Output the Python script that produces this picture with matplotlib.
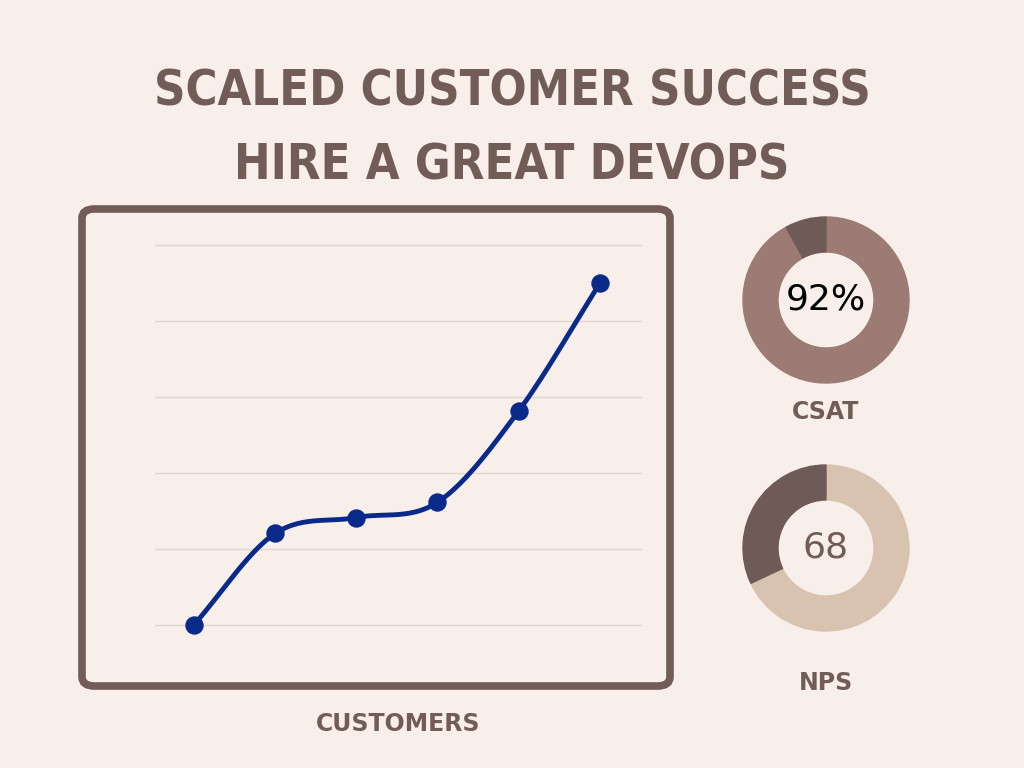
import numpy as np
import matplotlib.pyplot as plt
from matplotlib.patches import FancyBboxPatch, Wedge

BG = '#f8efea'
BROWN = '#725c58'

x_vals = [1, 2, 3, 4, 5, 6]
customers = [0, 1.2, 1.41, 1.61, 2.81, 4.49]
csat = 92
nps = 68


def smooth(xs, ys, n=30):
    # Catmull-Rom curve through the points, only for drawing
    p = np.column_stack([xs, ys]).astype(float)
    p = np.vstack([2 * p[0] - p[1], p, 2 * p[-1] - p[-2]])
    out = []
    t = np.linspace(0, 1, n)[:, None]
    for i in range(1, len(p) - 2):
        p0, p1, p2, p3 = p[i - 1], p[i], p[i + 1], p[i + 2]
        seg = 0.5 * ((2 * p1) + (-p0 + p2) * t + (2 * p0 - 5 * p1 + 4 * p2 - p3) * t ** 2
                     + (-p0 + 3 * p1 - 3 * p2 + p3) * t ** 3)
        out.append(seg)
    s = np.vstack(out)
    return s[:, 0], s[:, 1]


fig = plt.figure(figsize=(10.24, 7.68), dpi=100, facecolor=BG)

fig.text(0.5, 1 - 92 / 768, 'SCALED CUSTOMER SUCCESS', ha='center', va='center',
         fontsize=35, fontweight='bold', fontstretch='condensed', color=BROWN,
         family='DejaVu Sans')
fig.text(0.5, 1 - 166 / 768, 'HIRE A GREAT DEVOPS', ha='center', va='center',
         fontsize=35, fontweight='bold', fontstretch='condensed', color=BROWN,
         family='DejaVu Sans')

# frame around the line chart
frame = FancyBboxPatch((82 / 1024, 1 - 686 / 768), 588 / 1024, 477 / 768,
                       boxstyle='round,pad=0,rounding_size=0.012',
                       transform=fig.transFigure, fill=False, ec=BROWN, lw=5.5)
fig.patches.append(frame)

ax = fig.add_axes([155 / 1024, 1 - 627 / 768, 487 / 1024, 384 / 768])
ax.set_facecolor('none')
sx, sy = smooth(x_vals, customers)
ax.plot(sx, sy, color='#0a2a8a', lw=3.5, clip_on=False)
ax.scatter(x_vals, customers, s=150, color='#0a2a8a', zorder=3, clip_on=False)
ax.set_xlim(0.52, 6.52)
ax.set_ylim(-0.03, 5.02)
ax.set_yticks(range(6))
ax.grid(axis='y', color='#e0d6d2', lw=1)
ax.set_xticks([])
ax.tick_params(left=False, labelleft=False)
for s in ax.spines.values():
    s.set_visible(False)
ax.set_axisbelow(True)

fig.text(398 / 1024, 1 - 724 / 768, 'CUSTOMERS', ha='center', va='center',
         fontsize=17, fontweight='bold', color=BROWN)

# donuts
dax = fig.add_axes([0, 0, 1, 1])
dax.set_xlim(0, 1024)
dax.set_ylim(768, 0)
dax.axis('off')
dax.set_aspect('equal')


def donut(cx, cy, value, main, rest, label, txtcolor):
    r, w = 83, 35
    # y axis is flipped: -90 is the top, increasing angle goes clockwise on screen
    start = -90
    ang = 360 * value / 100
    dax.add_patch(Wedge((cx, cy), r, start, start + ang, width=w, color=main))
    dax.add_patch(Wedge((cx, cy), r, start + ang, start + 360, width=w, color=rest))
    dax.text(cx, cy, f'{value}{label}', ha='center', va='center', fontsize=26,
             color=txtcolor)


donut(826, 300, csat, '#9c7b74', '#6e5a56', '%', 'black')
donut(826, 548, nps, '#d8c3b0', '#6e5a56', '', BROWN)
dax.text(826, 412, 'CSAT', ha='center', va='center', fontsize=17,
         fontweight='bold', color=BROWN)
dax.text(826, 683, 'NPS', ha='center', va='center', fontsize=17,
         fontweight='bold', color=BROWN)

fig.savefig('out.png', dpi=100, facecolor=BG)
